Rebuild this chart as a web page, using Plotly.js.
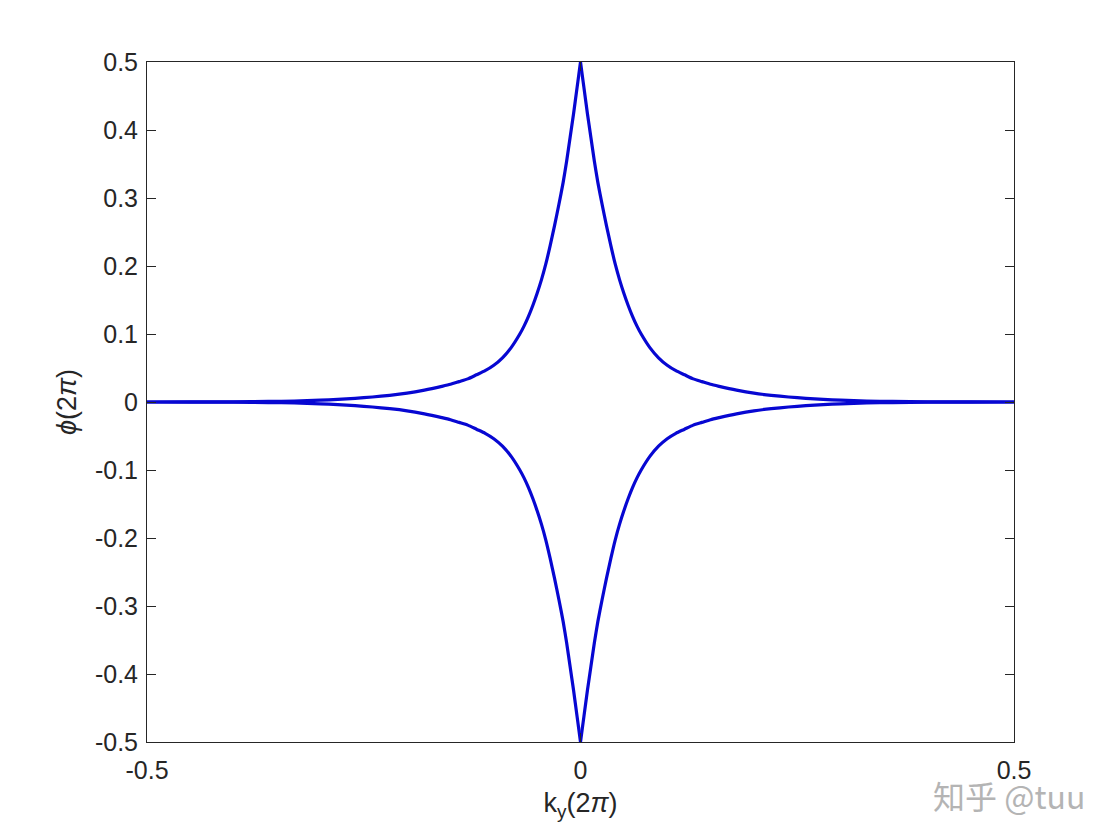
<!DOCTYPE html>
<html>
<head>
<meta charset="utf-8">
<script src="https://cdn.plot.ly/plotly-3.0.1.min.js"></script>
<style>
  html, body { margin: 0; padding: 0; background: #fff; }
  #chart { width: 1120px; height: 840px; }
</style>
</head>
<body>
<div id="chart"></div>
<script>
// Upper-right branch of the curve (ky >= 0, phi >= 0).
const kyValues = [0, 0.002, 0.004, 0.008, 0.012, 0.016, 0.02, 0.025, 0.03, 0.035, 0.04, 0.045, 0.05, 0.055, 0.06, 0.065, 0.07, 0.08, 0.09, 0.1, 0.11, 0.12, 0.13, 0.14, 0.15, 0.16, 0.18, 0.2, 0.22, 0.24, 0.26, 0.28, 0.3, 0.33, 0.36, 0.4, 0.45, 0.5];
const phiValues = [0.5, 0.481, 0.462, 0.424, 0.389, 0.354, 0.323, 0.290, 0.259, 0.230, 0.203, 0.180, 0.160, 0.142, 0.126, 0.112, 0.100, 0.080, 0.065, 0.054, 0.046, 0.040, 0.034, 0.030, 0.026, 0.023, 0.0175, 0.013, 0.0098, 0.0074, 0.0054, 0.0038, 0.0027, 0.0015, 0.0008, 0.0003, 0.0001, 0];

const xTickVals = [-0.5, 0, 0.5];
const xTickText = ['-0.5', '0', '0.5'];
const yTickVals = [-0.5, -0.4, -0.3, -0.2, -0.1, 0, 0.1, 0.2, 0.3, 0.4, 0.5];
const yTickText = ['-0.5', '-0.4', '-0.3', '-0.2', '-0.1', '0', '0.1', '0.2', '0.3', '0.4', '0.5'];

const lineColor = '#0707d2';
function branch(sx, sy) {
  return {
    x: kyValues.map(v => sx * v),
    y: phiValues.map(v => sy * v),
    type: 'scatter',
    mode: 'lines',
    line: { color: lineColor, width: 3.2, shape: 'spline', smoothing: 0.6 },
    hoverinfo: 'skip',
    showlegend: false
  };
}
const data = [branch(1, 1), branch(-1, 1), branch(1, -1), branch(-1, -1)];

const fontFam = 'Liberation Sans, Arial, sans-serif';
const axisCommon = {
  showgrid: false,
  zeroline: false,
  showline: true,
  mirror: 'ticks',
  linecolor: '#262626',
  linewidth: 1,
  ticks: 'inside',
  ticklen: 9,
  tickwidth: 1,
  tickcolor: '#262626',
  tickfont: { family: fontFam, size: 25, color: '#262626' }
};

const layout = {
  width: 1120,
  height: 840,
  paper_bgcolor: '#ffffff',
  plot_bgcolor: '#ffffff',
  margin: { l: 147, r: 106, t: 62, b: 98 },
  showlegend: false,
  xaxis: Object.assign({}, axisCommon, {
    range: [-0.5, 0.5],
    tickmode: 'array',
    tickvals: xTickVals,
    ticktext: xTickText,
    ticklabelstandoff: 6,
    title: { text: 'k<sub>y</sub>(2<i>π</i>)', font: { family: fontFam, size: 27, color: '#262626' }, standoff: 10 }
  }),
  yaxis: Object.assign({}, axisCommon, {
    range: [-0.5, 0.5],
    tickmode: 'array',
    tickvals: yTickVals,
    ticktext: yTickText,
    ticklabelstandoff: 3,
    title: { text: '<i>ϕ</i>(2<i>π</i>)', font: { family: fontFam, size: 27, color: '#262626' }, standoff: 10 }
  }),
  annotations: [{
    text: '知乎 @tuu',
    xref: 'paper', yref: 'paper',
    x: 1.0, y: -0.078,
    xanchor: 'center', yanchor: 'middle',
    xshift: -5,
    showarrow: false,
    font: { family: 'Noto Sans CJK SC, sans-serif', size: 32, color: '#b4b4b4' }
  }]
};

Plotly.newPlot('chart', data, layout, { displayModeBar: false, staticPlot: true });
</script>
</body>
</html>
